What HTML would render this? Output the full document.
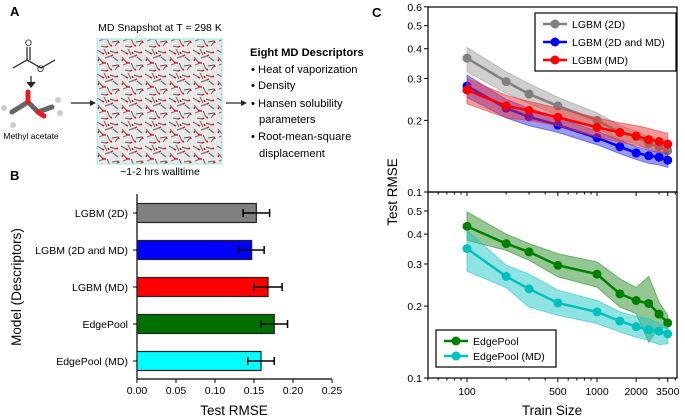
<!DOCTYPE html>
<html><head><meta charset="utf-8"><style>
body{margin:0;background:#fff;}
svg{display:block;font-family:"Liberation Sans",Arial,sans-serif;}
</style></head><body>
<svg id="fig" width="685" height="419" viewBox="0 0 685 419">
<defs>
<pattern id="md" width="24" height="24" patternUnits="userSpaceOnUse">
<rect width="24" height="24" fill="#e8e8e8"/>
<path d="M1 2l5 3M8 1l3 6M14 3l6 2M2 9l4 5M9 10l6-2M17 9l5 4M3 17l5-2M11 15l3 6M16 18l6-1M5 22l5 1M19 22l3-4" stroke="#777" stroke-width="1.2"/>
<path d="M6 5l2 1M20 5l2-1M6 14l2 1M15 8l2-1M8 15l2 0M14 21l2 1M22 17l1 2M10 23l2-1M3 11l-1 2M12 4l1 2" stroke="#e02020" stroke-width="1.6"/>
</pattern>
</defs>

<!-- Panel A -->
<g>
<text x="10" y="16" font-size="13" font-weight="bold">A</text>
<g stroke="#222" stroke-width="1.2" fill="none">
<path d="M13 68l14-8 14 8 14-8"/><path d="M27 60v-13M30 60v-13"/>
<text x="25" y="46" font-size="9" fill="#222" stroke="none">O</text>
<text x="37" y="72" font-size="9" fill="#222" stroke="none">O</text>
<path d="M31 76v8"/><path d="M27 82l4 5 4-5" fill="#222"/>
</g>
<g>
<path d="M12 112l16-10 10 10 14-5" stroke="#666" stroke-width="5" fill="none" stroke-linecap="round"/>
<path d="M38 112l6 4" stroke="#e02020" stroke-width="5" stroke-linecap="round"/>
<path d="M28 102v-10" stroke="#e02020" stroke-width="5" stroke-linecap="round"/>
<circle cx="13" cy="125" r="3" fill="#ccc"/><circle cx="4" cy="108" r="3" fill="#ccc"/><circle cx="58" cy="100" r="3" fill="#ccc"/><circle cx="60" cy="113" r="3" fill="#ccc"/>
</g>
<text x="31" y="139" font-size="8.5" text-anchor="middle">Methyl acetate</text>
<path d="M71 103h20" stroke="#222" stroke-width="1.2"/><path d="M90 100l6 3-6 3z" fill="#222"/>
<text x="160" y="31" font-size="10.5" text-anchor="middle">MD Snapshot at T = 298 K</text>
<rect x="97" y="39" width="125" height="125" fill="url(#md)" stroke="#9ee" stroke-width="1"/>
<text x="160" y="175" font-size="10.5" text-anchor="middle">~1-2 hrs walltime</text>
<path d="M226 103h16" stroke="#222" stroke-width="1.2"/><path d="M241 100l6 3-6 3z" fill="#222"/>
<g font-size="11.2">
<text x="250" y="56" font-weight="bold">Eight MD Descriptors</text>
<text x="251" y="73">• Heat of vaporization</text>
<text x="251" y="89">• Density</text>
<text x="251" y="107">• Hansen solubility</text>
<text x="259" y="123">parameters</text>
<text x="251" y="140">• Root-mean-square</text>
<text x="259" y="157">displacement</text>
</g>
</g>

<!-- Panel B -->
<g id="pb">
<text x="10" y="180" font-size="13" font-weight="bold">B</text>
<text transform="translate(21,287) rotate(-90)" font-size="13.5" text-anchor="middle">Model (Descriptors)</text>
<text x="234" y="415" font-size="13.5" text-anchor="middle">Test RMSE</text>
</g>

<!-- Panel C -->
<g id="pc">
<text x="372" y="17" font-size="13" font-weight="bold">C</text>
<text transform="translate(397,192) rotate(-90)" font-size="13.5" text-anchor="middle">Test RMSE</text>
<text x="552" y="415" font-size="13.5" text-anchor="middle">Train Size</text>
</g>
</svg>
<script>
const NS='http://www.w3.org/2000/svg';
// ---- Panel B data
const bModels=['LGBM (2D)','LGBM (2D and MD)','LGBM (MD)','EdgePool','EdgePool (MD)'];
const bValues=[0.153,0.147,0.168,0.176,0.159];
const bErrors=[0.017,0.016,0.018,0.017,0.017];
const bColors=['#808080','#0000ff','#ff0000','#007000','#00ffff'];
const bTicks=[0,0.05,0.10,0.15,0.20,0.25];
const bTickLabels=['0.00','0.05','0.10','0.15','0.20','0.25'];
// ---- Panel C data
const trainSizes=[100,200,300,500,1000,1500,2000,2500,3000,3500];
const gray2D=[0.365,0.291,0.258,0.23,0.2,0.178,0.171,0.16,0.155,0.149];
const gray2DUp=[0.405,0.32,0.285,0.25,0.215,0.19,0.18,0.17,0.165,0.16];
const gray2DLo=[0.32,0.26,0.235,0.21,0.185,0.165,0.16,0.15,0.145,0.14];
const blue2DMD=[0.279,0.225,0.207,0.191,0.169,0.155,0.146,0.142,0.140,0.136];
const blue2DMDUp=[0.31,0.245,0.225,0.205,0.18,0.165,0.155,0.15,0.147,0.145];
const blue2DMDLo=[0.25,0.205,0.19,0.178,0.158,0.145,0.137,0.132,0.130,0.127];
const redMD=[0.268,0.23,0.22,0.206,0.187,0.178,0.172,0.166,0.163,0.159];
const redMDUp=[0.30,0.255,0.24,0.225,0.205,0.195,0.19,0.185,0.18,0.176];
const redMDLo=[0.235,0.205,0.2,0.19,0.17,0.162,0.157,0.152,0.148,0.146];
const greenEP=[0.431,0.365,0.337,0.296,0.272,0.225,0.211,0.205,0.185,0.17];
const greenEPUp=[0.495,0.40,0.365,0.331,0.306,0.26,0.239,0.266,0.208,0.183];
const greenEPLo=[0.377,0.342,0.311,0.265,0.24,0.198,0.186,0.141,0.163,0.161];
const cyanEPMD=[0.348,0.266,0.236,0.206,0.189,0.173,0.164,0.159,0.157,0.153];
const cyanEPMDUp=[0.415,0.296,0.272,0.233,0.211,0.189,0.181,0.177,0.169,0.163];
const cyanEPMDLo=[0.28,0.239,0.198,0.183,0.169,0.156,0.148,0.144,0.138,0.139];
const yTicksTop=[0.1,0.2,0.3,0.4,0.5,0.6];
const yTicksBottom=[0.1,0.2,0.3,0.4,0.5];
const xTicksC=[100,500,1000,2000,3500];
const xMinorC=[50,60,70,80,90,200,300,400,600,700,800,900,3000,4000];

function el(tag,attrs,parent){const e=document.createElementNS(NS,tag);for(const k in attrs)e.setAttribute(k,attrs[k]);parent.appendChild(e);return e;}

// ---- Panel B draw
const pb=document.getElementById('pb');
const bx=v=>137+v*780;
const bTop=194,bBot=379,bStep=37,bFirst=213,bH=19;
const by=i=>bFirst+i*bStep;
let ax=el('path',{d:`M137 ${bTop}V${bBot}H${bx(0.25)}`,stroke:'#000','stroke-width':1.2,fill:'none'},pb);


bTicks.forEach((t,i)=>{
  const tk=el('line',{x1:bx(t),x2:bx(t),y1:bBot,y2:bBot+4,stroke:'#000'},pb);
  
  
  const tl=el('text',{x:bx(t),y:bBot+15,'font-size':10.5,'text-anchor':'middle'},pb);
  tl.textContent=bTickLabels[i];
  
  
});
bModels.forEach((m,i)=>{
  const y=by(i);
  const r=el('rect',{x:137,y:y-bH/2,width:bx(bValues[i])-137,height:bH,fill:bColors[i],stroke:'#222','stroke-width':1.2},pb);
  
  
  const lo=bx(bValues[i]-bErrors[i]),hi=bx(bValues[i]+bErrors[i]);
  const eb=el('path',{d:`M${lo} ${y}H${hi}M${lo} ${y-4}v8M${hi} ${y-4}v8`,stroke:'#000','stroke-width':1.5,fill:'none'},pb);
  
  
  el('line',{x1:133,x2:137,y1:y,y2:y,stroke:'#000'},pb);
  const t=el('text',{x:128,y:y+4,'font-size':10.5,'text-anchor':'end'},pb);
  t.textContent=m;
  
  
});

// ---- Panel C draw
const pc=document.getElementById('pc');
const L=428,R=677;
const cx=v=>467+(Math.log10(v)-2)*130;
const cyTop=v=>192-(Math.log10(v)+1)*238;
const cyBot=v=>378-(Math.log10(v)+1)*239;
function panel(yf,top,bot,name,ticks){
  const f=el('rect',{x:L,y:top,width:R-L,height:bot-top,fill:'none',stroke:'#000','stroke-width':1.2},pc);
  
  
  ticks.forEach(t=>{
    el('line',{x1:L-4,x2:L,y1:yf(t),y2:yf(t),stroke:'#000'},pc);
    const tl=el('text',{x:L-6,y:yf(t)+4,'font-size':10.5,'text-anchor':'end'},pc);
    tl.textContent=String(t);
    
    
  });
  xTicksC.forEach(t=>el('line',{x1:cx(t),x2:cx(t),y1:bot,y2:bot+4,stroke:'#000'},pc));
  xMinorC.forEach(t=>el('line',{x1:cx(t),x2:cx(t),y1:bot,y2:bot+2.5,stroke:'#000'},pc));
}
function series(yf,mid,up,lo,color,bandColor,name){
  let d='M'+trainSizes.map((x,i)=>cx(x)+' '+yf(up[i])).join('L');
  d+='L'+trainSizes.map((x,i)=>cx(x)+' '+yf(lo[i])).reverse().join('L')+'Z';
  const b=el('path',{d:d,fill:bandColor,'fill-opacity':0.5,stroke:bandColor,'stroke-opacity':0.6},pc);
  
  
  const l=el('polyline',{points:trainSizes.map((x,i)=>cx(x)+','+yf(mid[i])).join(' '),fill:'none',stroke:color,'stroke-width':2.5},pc);
  
  
  trainSizes.forEach((x,i)=>{
    const c=el('circle',{cx:cx(x),cy:yf(mid[i]),r:4.5,fill:color},pc);
    
    
  });
}
series(cyTop,gray2D,gray2DUp,gray2DLo,'#808080','#a0a0a0','lgbm-2d');
series(cyTop,blue2DMD,blue2DMDUp,blue2DMDLo,'#0000ff','#3333ee','lgbm-2d-md');
series(cyTop,redMD,redMDUp,redMDLo,'#ff0000','#ee3333','lgbm-md');
series(cyBot,greenEP,greenEPUp,greenEPLo,'#008000','#2a8f2a','edgepool');
series(cyBot,cyanEPMD,cyanEPMDUp,cyanEPMDLo,'#00c0c0','#22c8c8','edgepool-md');
panel(cyTop,7,192,'c-top',yTicksTop);
panel(cyBot,192,378,'c-bottom',yTicksBottom);
xTicksC.forEach(t=>{
  const tl=el('text',{x:cx(t),y:395,'font-size':10.5,'text-anchor':'middle'},pc);
  tl.textContent=String(t);
  
  
});
function legend(x,y,w,h,items,name){
  const g=el('g',{},pc);
  
  
  el('rect',{x:x,y:y,width:w,height:h,fill:'#fff',stroke:'#000','stroke-width':1.2},g);
  items.forEach((it,i)=>{
    const yy=y+11+i*(h-22)/(items.length-1);
    const e=el('g',{},g);
    
    
    el('line',{x1:x+8,x2:x+32,y1:yy,y2:yy,stroke:it[1],'stroke-width':2.5},e);
    el('circle',{cx:x+20,cy:yy,r:4.5,fill:it[1]},e);
    const t=el('text',{x:x+37,y:yy+4,'font-size':10.5},e);
    t.textContent=it[0];
  });
}
legend(535,13,141,58,[['LGBM (2D)','#808080'],['LGBM (2D and MD)','#0000ff'],['LGBM (MD)','#ff0000']],'legend-top');
legend(436,330,120,37,[['EdgePool','#008000'],['EdgePool (MD)','#00c0c0']],'legend-bottom');
</script>
</body></html>
